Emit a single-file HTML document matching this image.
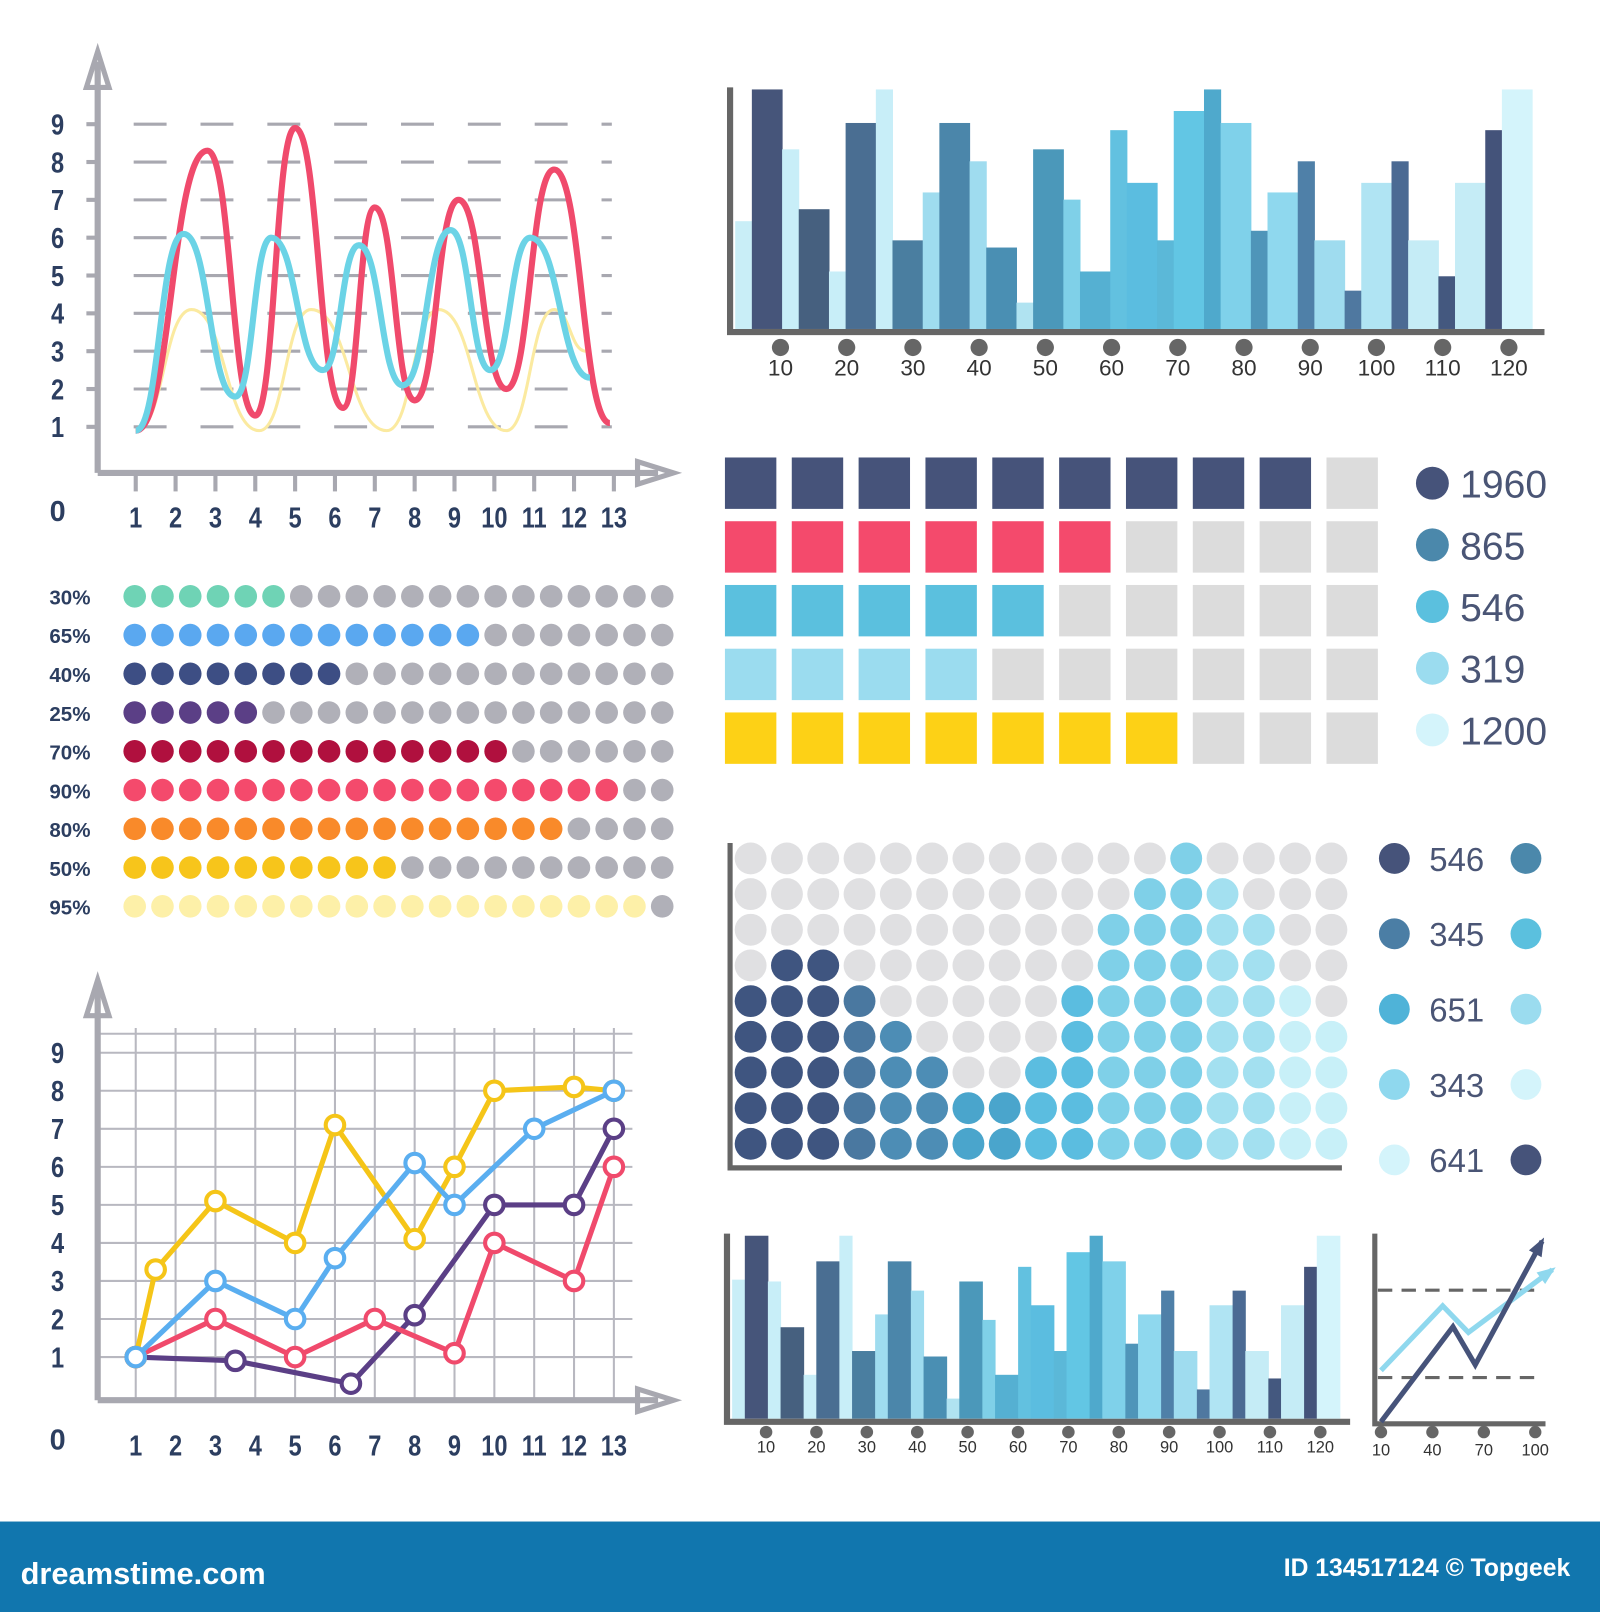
<!DOCTYPE html>
<html><head><meta charset="utf-8">
<style>
html,body{margin:0;padding:0;background:#fff;}
svg{display:block;}
text{font-family:"Liberation Sans Narrow","Liberation Sans",sans-serif;}
</style></head>
<body>
<svg id="root" width="1600" height="1612" viewBox="0 0 1556 1568" preserveAspectRatio="none" xmlns="http://www.w3.org/2000/svg">
<rect x="0" y="0" width="1556" height="1568" fill="#fff"/>
<g id="wave"></g>
<g id="bars1"></g>
<g id="squares"></g>
<g id="dots"></g>
<g id="lines"></g>
<g id="bubbles"></g>
<g id="bars2"></g>
<g id="mini"></g>
<g>
<rect x="0" y="1480" width="1556" height="88" fill="#1176ae"/>
<text x="20" y="1541" fill="#fff" font-size="30" font-weight="bold" style="font-family:'Liberation Sans',sans-serif">dreamstime.com</text>
<text x="1527" y="1533" fill="#fff" font-size="24" font-weight="bold" text-anchor="end" style="font-family:'Liberation Sans',sans-serif">ID 134517124 © Topgeek</text>
</g>
</svg>
<script>
// ---------- DATA ----------
const waveXTicks = [1,2,3,4,5,6,7,8,9,10,11,12,13];
const waveYTicks = [1,2,3,4,5,6,7,8,9];
const redWaveX = [1,2.8,4,5,6.2,7,8,9.1,10.3,11.5,12.9];
const redWaveY = [0.9,8.3,1.3,8.9,1.5,6.8,1.7,7,2,7.8,1.1];
const cyanWaveX = [1,2.2,3.5,4.4,5.7,6.6,7.7,8.9,9.9,10.9,12.4];
const cyanWaveY = [0.9,6.1,1.8,6,2.5,5.8,2.1,6.2,2.5,6,2.3];
const yellowWaveX = [1,2.4,4.1,5.4,7.3,8.6,10.3,11.5,12.3];
const yellowWaveY = [0.9,4.1,0.9,4.1,0.9,4.1,0.9,4.1,3];

const barTicks = [10,20,30,40,50,60,70,80,90,100,110,120];
const bar1Values = [45,100,75,50,24,86,100,37,57,86,70,34,11,75,54,24,83,61,37,91,100,86,41,57,70,37,16,61,70,37,22,61,83,100];
const bar2Values = [76,100,75,50,24,86,100,37,57,86,70,34,11,75,54,24,83,62,37,91,100,86,41,57,70,37,16,62,70,37,22,62,83,100];
const barColors = ["#c9eef7","#46557a","#c8eef8","#46607f","#c8eef8","#4a6e92","#c8eef8","#4a7ea0","#9fdcef","#4b86aa","#9fdcef","#4a8fb3","#b0e3f1","#4b98ba","#7fd0e8","#55b0d2","#62c1e0","#5bbde0","#5bb8d8","#62c6e4","#4fa9cc","#7fd1ea","#4f95b9","#8fd8ee","#4f80a8","#9fdcef","#4f78a0","#b0e4f3","#4b6a93","#c5ecf6","#44587f","#c5ecf6","#44537a","#d4f4fb"];

const squareCounts = [9,6,5,4,7];
const squareColors = ["#46537a","#f44a6c","#5bc0de","#9bdcef","#fdd116"];
const squareLegend = ["1960","865","546","319","1200"];
const squareLegendColors = ["#46537a","#4b88ab","#5bc0de","#9bdcef","#d4f4fb"];

const dotPercents = [30,65,40,25,70,90,80,50,95];
const dotFilled = [6,13,8,5,14,18,16,10,19];
const dotColors = ["#6fd3b5","#5aa8f0","#3d4e84","#5b3f86","#b0103e","#f44a6c","#f98a2a","#f7c51b","#fdf0a8"];

const lineYellowX = [1,1.5,3,5,6,8,9,10,12,13];
const lineYellowY = [1,3.3,5.1,4,7.1,4.1,6,8,8.1,8];
const lineBlueX = [1,3,5,6,8,9,11,13];
const lineBlueY = [1,3,2,3.6,6.1,5,7,8];
const linePurpleX = [1,3.5,6.4,8,10,12,13];
const linePurpleY = [1,0.9,0.3,2.1,5,5,7];
const lineRedX = [1,3,5,7,9,10,12,13];
const lineRedY = [1,2,1,2,1.1,4,3,6];

const bubbleHeights = [5,6,6,5,4,3,2,2,3,5,7,8,9,8,7,5,4];
const bubbleColors = ["#3f5580","#3f5580","#3f5580","#4a78a0","#4d8db5","#4d8db5","#4aa5cc","#4aa5cc","#5bbde0","#5bbde0","#7fd0e8","#7fd0e8","#7fd0e8","#a3e0f0","#a3e0f0","#c8f0f8","#c8f0f8"];
const bubbleLegend = ["546","345","651","343","641"];
const bubbleLegendLeft = ["#46537a","#4b7ea5","#4fb3d8","#8fd8ee","#d4f4fb"];
const bubbleLegendRight = ["#4b88ab","#5bc0de","#9bdcef","#d4f4fb","#46537a"];

const miniTicks = [10,40,70,100];
const miniNavyX = [10,52,65,104];
const miniNavyY = [0,5,3,9.5];
const miniLightX = [10,46,61,110];
const miniLightY = [2.7,6.1,4.7,8];

// ---------- HELPERS ----------
const NS="http://www.w3.org/2000/svg";
function mk(parent,tag,attrs){const e=document.createElementNS(NS,tag);for(const k in attrs)e.setAttribute(k,attrs[k]);parent.appendChild(e);return e;}
function smooth(pts){let d="M"+pts[0][0]+","+pts[0][1];for(let i=0;i<pts.length-1;i++){const p1=pts[i],p2=pts[i+1];const dx=(p2[0]-p1[0])*0.5;
d+=" C"+(p1[0]+dx)+","+p1[1]+" "+(p2[0]-dx)+","+p2[1]+" "+p2[0]+","+p2[1];}return d;}
const AX="#a8a8b0", LBL="#2c3e60";
function narrowText(t){t.setAttribute('transform',`translate(${t.getAttribute('x')*1},0) scale(0.82,1) translate(${-t.getAttribute('x')},0)`);}

// ---------- WAVE CHART ----------
(function(){
const g=document.getElementById('wave');
const x=v=>132+(v-1)*38.75, y=v=>452-36.8*v;
let a=mk(g,'path',{d:"M95,460 L95,60 M95,460 L640,460",stroke:AX,"stroke-width":6,fill:"none"});


mk(g,'path',{d:"M84,85 L95,50 L106,85 Z",fill:"none",stroke:AX,"stroke-width":5});
mk(g,'path',{d:"M620,449 L655,460 L620,471 Z",fill:"none",stroke:AX,"stroke-width":5});
waveYTicks.forEach(v=>{
 const l=mk(g,'line',{x1:130,x2:595,y1:y(v),y2:y(v),stroke:"#a8a8b0","stroke-width":3,"stroke-dasharray":"32,33"});
 
 
 mk(g,'line',{x1:84,x2:95,y1:y(v),y2:y(v),stroke:AX,"stroke-width":4});
 const t=mk(g,'text',{x:56,y:y(v)+10,"font-size":28,"font-weight":"bold",fill:LBL,"text-anchor":"middle"});t.textContent=v;
 narrowText(t);
 
 
});
const z=mk(g,'text',{x:56,y:507,"font-size":28,"font-weight":"bold",fill:LBL,"text-anchor":"middle"});z.textContent="0";
waveXTicks.forEach(v=>{
 mk(g,'line',{x1:x(v),x2:x(v),y1:463,y2:478,stroke:AX,"stroke-width":4});
 const t=mk(g,'text',{x:x(v),y:513,"font-size":28,"font-weight":"bold",fill:LBL,"text-anchor":"middle"});t.textContent=v;
 narrowText(t);
 
 
});
const ser=[[yellowWaveX,yellowWaveY,"#fbeaa0",3,'yellow-wave'],[redWaveX,redWaveY,"#f04a6c",6,'red-wave'],[cyanWaveX,cyanWaveY,"#6bd3e6",6,'cyan-wave']];
ser.forEach(s=>{const p=mk(g,'path',{d:smooth(s[0].map((v,i)=>[x(v),y(s[1][i])])),stroke:s[2],"stroke-width":s[3],fill:"none"});
 
 });
})();

// ---------- BAR CHARTS ----------
function barChart(id,vals,x0,x1,base,top,tickX0,tickStep,tickY,fs,axisTop,axisRight){
 const g=document.getElementById(id);
 const y=v=>base-(base-top)*v/100;
 const wide=(x1-x0)/(17*1+17*0.55), narrow=wide*0.55;
 let cx=x0;
 vals.forEach((v,i)=>{
  const w=(i%2===1)?wide:narrow;
  const r=mk(g,'rect',{x:cx,y:y(v),width:w+0.5,height:base-y(v),fill:barColors[i]});
  
  
  cx+=w;
 });
 mk(g,'path',{d:`M${x0-5},${axisTop} L${x0-5},${base+3} L${axisRight},${base+3}`,stroke:"#666","stroke-width":6,fill:"none"});
 barTicks.forEach((t,i)=>{
  const tx=tickX0+i*tickStep;
  mk(g,'circle',{cx:tx,cy:tickY,r:fs*0.38,fill:"#666"});
  const l=mk(g,'text',{x:tx,y:tickY+fs*1.25,"font-size":fs,fill:"#333","text-anchor":"middle"});l.textContent=t;
  
  
 });
}
barChart('bars1',bar1Values,715,1490,320,87,759,64.4,338,22,85,1502);
barChart('bars2',bar2Values,712,1303,1380,1202,745,49,1393,16,1200,1313);

// ---------- SQUARE GRID ----------
(function(){
const g=document.getElementById('squares');
squareCounts.forEach((c,r)=>{
 for(let i=0;i<10;i++){
  const s=mk(g,'rect',{x:705+i*65,y:445+r*62,width:50,height:50,fill:i<c?squareColors[r]:"#dcdcdc"});
  
  
 }
 mk(g,'circle',{cx:1393,cy:470+r*60,r:16,fill:squareLegendColors[r]});
 const t=mk(g,'text',{x:1420,y:484+r*60,"font-size":38,fill:"#4a5575",style:"font-family:'Liberation Sans',sans-serif"});t.textContent=squareLegend[r];
 
 
});
})();

// ---------- DOT ROWS ----------
(function(){
const g=document.getElementById('dots');
dotPercents.forEach((p,r)=>{
 const cy=580+r*37.7;
 const t=mk(g,'text',{x:68,y:cy+8,"font-size":20,"font-weight":"bold",fill:LBL,"text-anchor":"middle"});t.textContent=p+"%";
 
 
 for(let i=0;i<20;i++){
  const c=mk(g,'circle',{cx:131+i*27,cy:cy,r:11,fill:i<dotFilled[r]?dotColors[r]:"#b0b0b8"});
  
  
 }
});
})();

// ---------- GRID LINE CHART ----------
(function(){
const g=document.getElementById('lines');
const x=v=>132+(v-1)*38.75, y=v=>1357-37*v;
for(let i=1;i<=13;i++) mk(g,'line',{x1:x(i),x2:x(i),y1:1000,y2:1362,stroke:"#b8b8c0","stroke-width":2});
for(let v=1;v<=9;v++){
 mk(g,'line',{x1:95,x2:615,y1:y(v),y2:y(v),stroke:"#b8b8c0","stroke-width":2});
 const t=mk(g,'text',{x:56,y:y(v)+10,"font-size":28,"font-weight":"bold",fill:LBL,"text-anchor":"middle"});t.textContent=v;
 narrowText(t);
 
 
}
mk(g,'line',{x1:95,x2:615,y1:y(9.5),y2:y(9.5),stroke:"#b8b8c0","stroke-width":2});
const z=mk(g,'text',{x:56,y:1410,"font-size":28,"font-weight":"bold",fill:LBL,"text-anchor":"middle"});z.textContent="0";
for(let i=1;i<=13;i++){const t=mk(g,'text',{x:x(i),y:1416,"font-size":28,"font-weight":"bold",fill:LBL,"text-anchor":"middle"});t.textContent=i;
 narrowText(t);
 
 }
mk(g,'path',{d:"M95,1362 L95,960 M95,1362 L640,1362",stroke:AX,"stroke-width":6,fill:"none"});
mk(g,'path',{d:"M84,988 L95,953 L106,988 Z",fill:"none",stroke:AX,"stroke-width":5});
mk(g,'path',{d:"M620,1351 L655,1362 L620,1373 Z",fill:"none",stroke:AX,"stroke-width":5});
const ser=[[linePurpleX,linePurpleY,"#5b3f86",'purple-line'],[lineRedX,lineRedY,"#f04a6c",'red-line'],[lineYellowX,lineYellowY,"#f5c518",'yellow-line'],[lineBlueX,lineBlueY,"#5aaef0",'blue-line']];
ser.forEach(s=>{
 const pts=s[0].map((v,i)=>[x(v),y(s[1][i])]);
 const p=mk(g,'polyline',{points:pts.map(q=>q.join(",")).join(" "),stroke:s[2],"stroke-width":5,fill:"none"});
 
 
 pts.forEach(q=>{const c=mk(g,'circle',{cx:q[0],cy:q[1],r:9,fill:"#fff",stroke:s[2],"stroke-width":4});
  
  });
});
})();

// ---------- BUBBLE GRID ----------
(function(){
const g=document.getElementById('bubbles');
bubbleHeights.forEach((h,c)=>{
 for(let r=0;r<9;r++){
  const filled=(9-r)<=h;
  const b=mk(g,'circle',{cx:730+c*35.3,cy:835+r*34.7,r:15.5,fill:filled?bubbleColors[c]:"#e0e0e2"});
  
  
 }
});
mk(g,'path',{d:"M710,820 L710,1136 L1305,1136",stroke:"#666","stroke-width":5,fill:"none"});
bubbleLegend.forEach((v,i)=>{
 const cy=835+i*73.3;
 mk(g,'circle',{cx:1356,cy:cy,r:15,fill:bubbleLegendLeft[i]});
 mk(g,'circle',{cx:1484,cy:cy,r:15,fill:bubbleLegendRight[i]});
 const t=mk(g,'text',{x:1390,y:cy+12,"font-size":32,fill:"#4a5575",style:"font-family:'Liberation Sans',sans-serif"});t.textContent=v;
 
 
});
})();

// ---------- MINI TREND ----------
(function(){
const g=document.getElementById('mini');
const x=v=>1343+(v-10)*1.667, y=v=>1383-18.5*v;
mk(g,'line',{x1:1340,x2:1497,y1:1255,y2:1255,stroke:"#666","stroke-width":3,"stroke-dasharray":"14,9"});
mk(g,'line',{x1:1340,x2:1497,y1:1340,y2:1340,stroke:"#666","stroke-width":3,"stroke-dasharray":"14,9"});
mk(g,'path',{d:"M1337,1200 L1337,1385 L1503,1385",stroke:"#666","stroke-width":5,fill:"none"});
[[miniLightX,miniLightY,"#8fd8ee",'light-trend-line'],[miniNavyX,miniNavyY,"#46537a",'navy-trend-line']].forEach(s=>{
 const pts=s[0].map((v,i)=>[x(v),y(s[1][i])]);
 const p=mk(g,'polyline',{points:pts.map(q=>q.join(",")).join(" "),stroke:s[2],"stroke-width":5,fill:"none"});
 
 
 const a=pts[pts.length-2],b=pts[pts.length-1];const ang=Math.atan2(b[1]-a[1],b[0]-a[0]);
 const L=14,W=7;
 mk(g,'polygon',{points:`${b[0]+Math.cos(ang)*4},${b[1]+Math.sin(ang)*4} ${b[0]-Math.cos(ang)*L-Math.sin(ang)*W},${b[1]-Math.sin(ang)*L+Math.cos(ang)*W} ${b[0]-Math.cos(ang)*L+Math.sin(ang)*W},${b[1]-Math.sin(ang)*L-Math.cos(ang)*W}`,fill:s[2]});
});
miniTicks.forEach(t=>{
 mk(g,'circle',{cx:x(t),cy:1393,r:6,fill:"#666"});
 const l=mk(g,'text',{x:x(t),y:1416,"font-size":16,fill:"#333","text-anchor":"middle"});l.textContent=t;
 
 
});
})();
</script>
</body></html>
